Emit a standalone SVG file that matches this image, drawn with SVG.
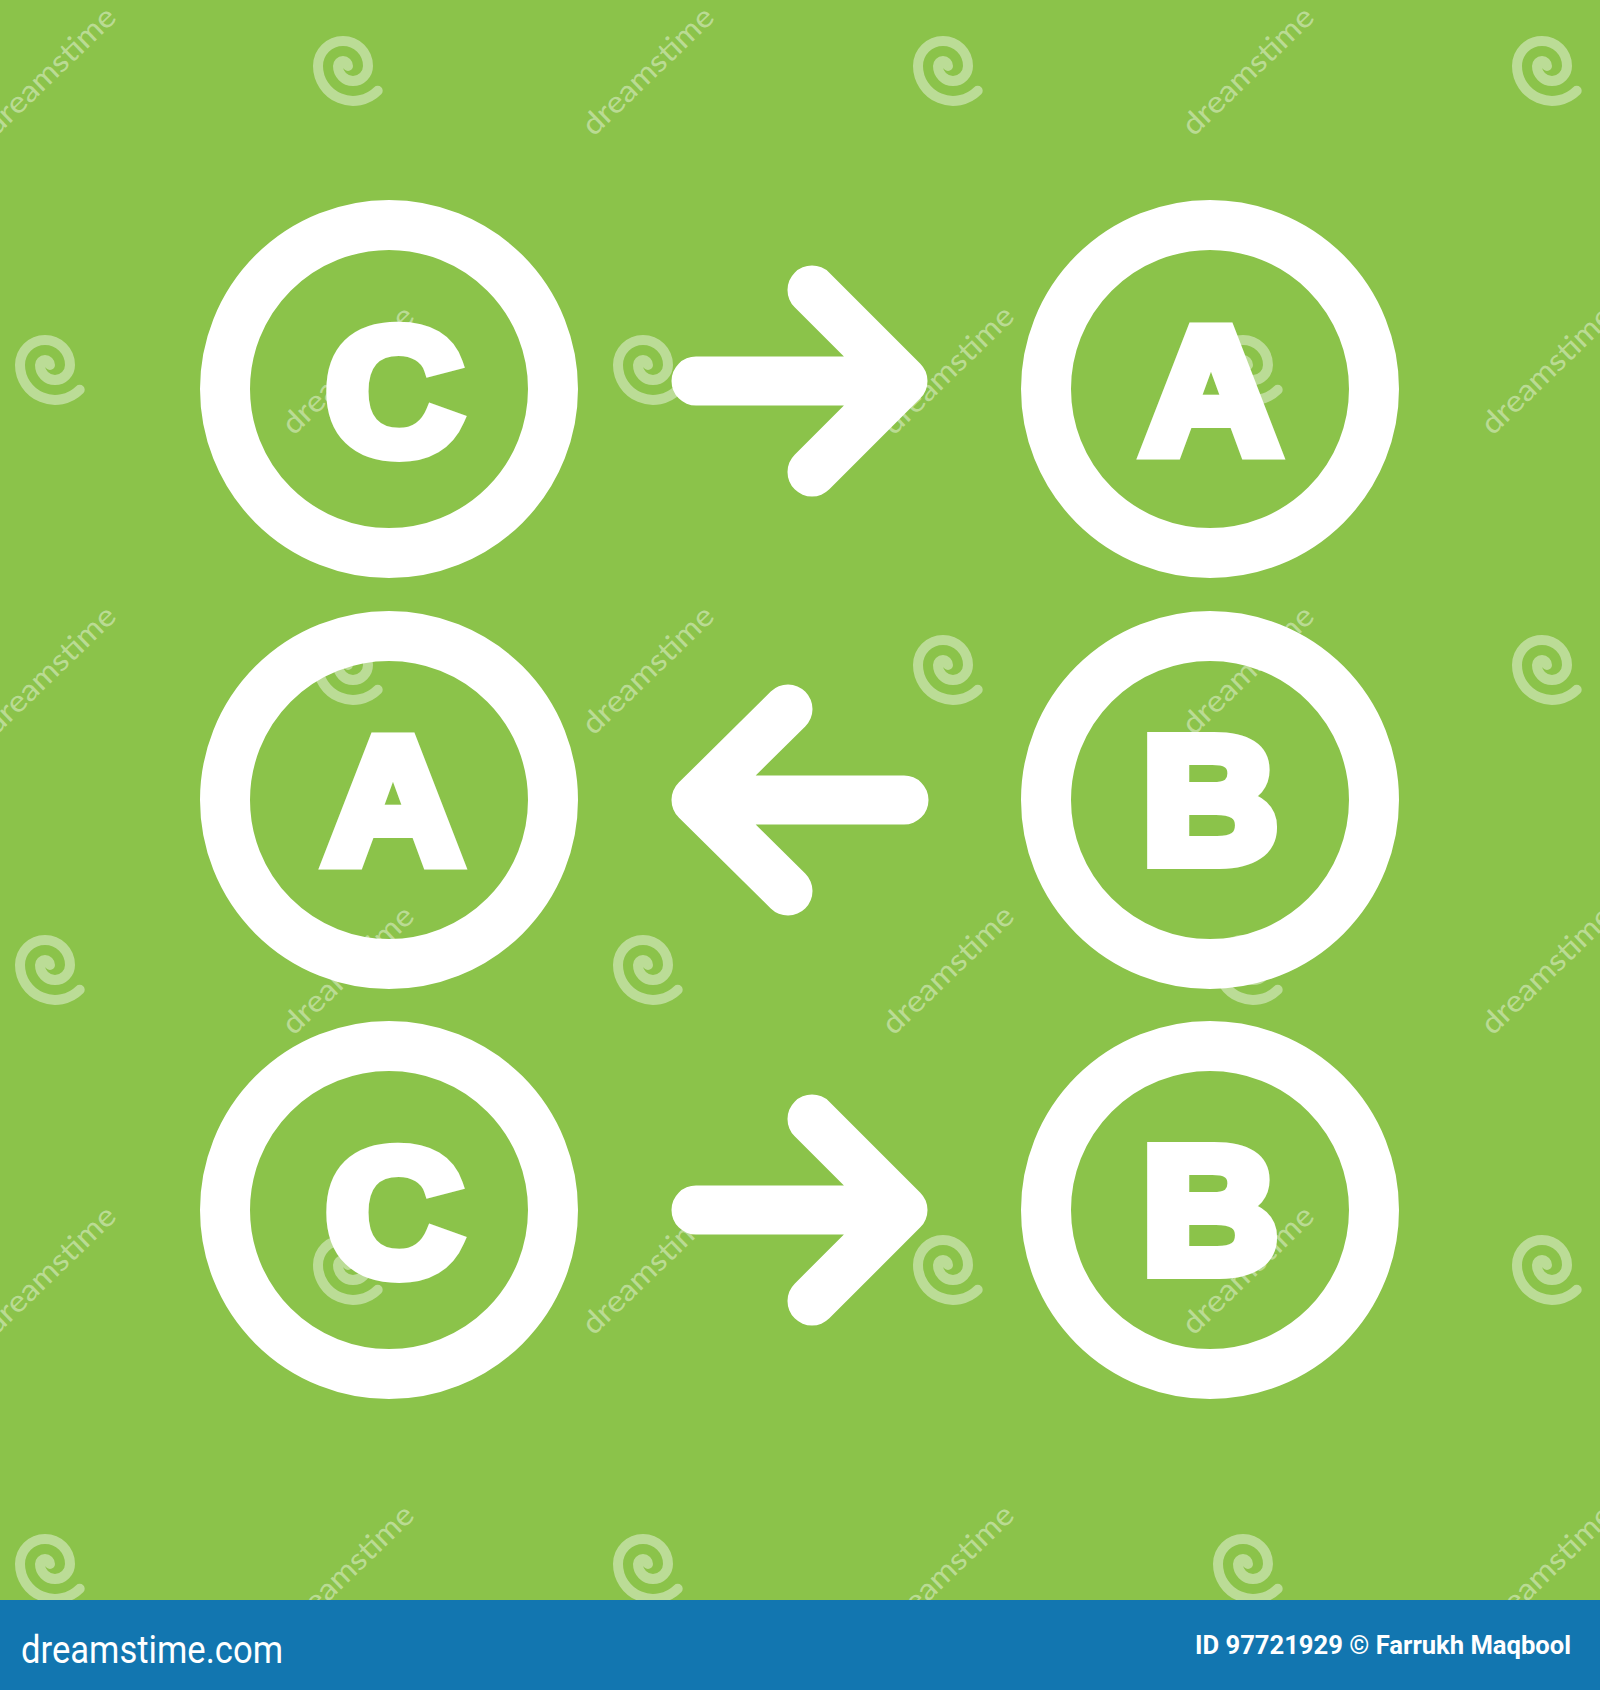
<svg xmlns="http://www.w3.org/2000/svg" width="1600" height="1690" viewBox="0 0 1600 1690" xmlns:xlink="http://www.w3.org/1999/xlink">
<defs>
<style>
.ring{fill:none;stroke:#ffffff;stroke-width:50}
.letter{font-family:"Liberation Sans",Arial,sans-serif;font-weight:bold;font-size:178px;fill:#ffffff;stroke:#ffffff;stroke-width:14;stroke-linejoin:miter;text-anchor:middle}
.arrow{fill:none;stroke:#ffffff;stroke-width:49;stroke-linecap:round;stroke-linejoin:round}
.wm{fill:none;stroke:#ffffff;stroke-opacity:0.42;stroke-width:10;stroke-linecap:round}
.wmt{font-family:"Lato","DejaVu Sans",sans-serif;font-size:30px;fill:#ffffff;fill-opacity:0.42;text-anchor:middle}
.foot{font-family:Roboto,"Liberation Sans",sans-serif;fill:#ffffff}
</style>
<path id="sp" class="wm" transform="translate(-5,-5)" d="M5,0 A5,5 0 0 0 -5,0 A15,15 0 0 0 25,0 A25,25 0 0 0 -25,0 A35,35 0 0 0 34.7,24.7"/>
</defs>
<rect x="0" y="0" width="1600" height="1600" fill="#8bc34a"/>

<g id="connectors">
<path class="arrow" d="M696,381 H903 M812,290 L903,381 L812,472"/>
<path class="arrow" d="M904,800 H696 M788,709 L696,800 L788,891"/>
<path class="arrow" d="M696,1210 H903 M812,1119 L903,1210 L812,1301"/>
</g>

<g id="node-c1">
<circle class="ring" cx="389" cy="389" r="164"/>
<text class="letter" transform="translate(394,453) scale(1.06,1)">C</text>
</g>
<g id="node-a1">
<circle class="ring" cx="1210" cy="389" r="164"/>
<text class="letter" transform="translate(1211,452) scale(1.07,1)">A</text>
</g>
<g id="node-a2">
<circle class="ring" cx="389" cy="800" r="164"/>
<text class="letter" transform="translate(393,862) scale(1.07,1)">A</text>
</g>
<g id="node-b2">
<circle class="ring" cx="1210" cy="800" r="164"/>
<text class="letter" transform="translate(1210,862) scale(1.06,1)">B</text>
</g>
<g id="node-c3">
<circle class="ring" cx="389" cy="1210" r="164"/>
<text class="letter" transform="translate(394,1274) scale(1.06,1)">C</text>
</g>
<g id="node-b3">
<circle class="ring" cx="1210" cy="1210" r="164"/>
<text class="letter" transform="translate(1210,1272) scale(1.06,1)">B</text>
</g>

<g id="watermark-spirals">
<use xlink:href="#sp" href="#sp" x="348" y="71"/>
<use xlink:href="#sp" href="#sp" x="948" y="71"/>
<use xlink:href="#sp" href="#sp" x="1547" y="71"/>
<use xlink:href="#sp" href="#sp" x="50" y="370"/>
<use xlink:href="#sp" href="#sp" x="648" y="370"/>
<use xlink:href="#sp" href="#sp" x="1248" y="370"/>
<use xlink:href="#sp" href="#sp" x="348" y="670"/>
<use xlink:href="#sp" href="#sp" x="948" y="670"/>
<use xlink:href="#sp" href="#sp" x="1547" y="670"/>
<use xlink:href="#sp" href="#sp" x="50" y="970"/>
<use xlink:href="#sp" href="#sp" x="648" y="970"/>
<use xlink:href="#sp" href="#sp" x="1248" y="970"/>
<use xlink:href="#sp" href="#sp" x="348" y="1270"/>
<use xlink:href="#sp" href="#sp" x="948" y="1270"/>
<use xlink:href="#sp" href="#sp" x="1547" y="1270"/>
<use xlink:href="#sp" href="#sp" x="50" y="1569"/>
<use xlink:href="#sp" href="#sp" x="648" y="1569"/>
<use xlink:href="#sp" href="#sp" x="1248" y="1569"/>
</g>

<g id="watermark-text">
<text class="wmt" transform="translate(50,71) rotate(-44)" dy="10" textLength="170" lengthAdjust="spacingAndGlyphs">dreamstime</text>
<text class="wmt" transform="translate(648,71) rotate(-44)" dy="10" textLength="170" lengthAdjust="spacingAndGlyphs">dreamstime</text>
<text class="wmt" transform="translate(1248,71) rotate(-44)" dy="10" textLength="170" lengthAdjust="spacingAndGlyphs">dreamstime</text>
<text class="wmt" transform="translate(348,370) rotate(-44)" dy="10" textLength="170" lengthAdjust="spacingAndGlyphs">dreamstime</text>
<text class="wmt" transform="translate(948,370) rotate(-44)" dy="10" textLength="170" lengthAdjust="spacingAndGlyphs">dreamstime</text>
<text class="wmt" transform="translate(1547,370) rotate(-44)" dy="10" textLength="170" lengthAdjust="spacingAndGlyphs">dreamstime</text>
<text class="wmt" transform="translate(50,670) rotate(-44)" dy="10" textLength="170" lengthAdjust="spacingAndGlyphs">dreamstime</text>
<text class="wmt" transform="translate(648,670) rotate(-44)" dy="10" textLength="170" lengthAdjust="spacingAndGlyphs">dreamstime</text>
<text class="wmt" transform="translate(1248,670) rotate(-44)" dy="10" textLength="170" lengthAdjust="spacingAndGlyphs">dreamstime</text>
<text class="wmt" transform="translate(348,970) rotate(-44)" dy="10" textLength="170" lengthAdjust="spacingAndGlyphs">dreamstime</text>
<text class="wmt" transform="translate(948,970) rotate(-44)" dy="10" textLength="170" lengthAdjust="spacingAndGlyphs">dreamstime</text>
<text class="wmt" transform="translate(1547,970) rotate(-44)" dy="10" textLength="170" lengthAdjust="spacingAndGlyphs">dreamstime</text>
<text class="wmt" transform="translate(50,1270) rotate(-44)" dy="10" textLength="170" lengthAdjust="spacingAndGlyphs">dreamstime</text>
<text class="wmt" transform="translate(648,1270) rotate(-44)" dy="10" textLength="170" lengthAdjust="spacingAndGlyphs">dreamstime</text>
<text class="wmt" transform="translate(1248,1270) rotate(-44)" dy="10" textLength="170" lengthAdjust="spacingAndGlyphs">dreamstime</text>
<text class="wmt" transform="translate(348,1569) rotate(-44)" dy="10" textLength="170" lengthAdjust="spacingAndGlyphs">dreamstime</text>
<text class="wmt" transform="translate(948,1569) rotate(-44)" dy="10" textLength="170" lengthAdjust="spacingAndGlyphs">dreamstime</text>
<text class="wmt" transform="translate(1547,1569) rotate(-44)" dy="10" textLength="170" lengthAdjust="spacingAndGlyphs">dreamstime</text>
</g>

<g id="footer">
<rect x="0" y="1600" width="1600" height="90" fill="#1276b0"/>
<text class="foot" x="21" y="1663" font-size="38" textLength="262" lengthAdjust="spacingAndGlyphs" font-family="Lato,'DejaVu Sans',sans-serif">dreamstime.com</text>
<text class="foot" x="1195" y="1654" font-size="26" font-weight="bold" textLength="376" lengthAdjust="spacingAndGlyphs">ID 97721929 © Farrukh Maqbool</text>
</g>
</svg>
